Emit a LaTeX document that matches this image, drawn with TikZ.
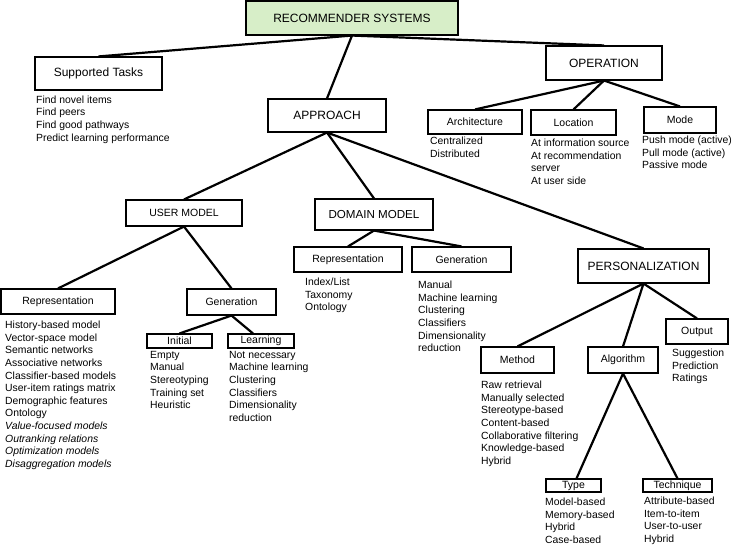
\documentclass[tikz,border=0pt]{standalone}
\usepackage{fontspec}
\setmainfont{Liberation Sans}
\definecolor{recgreen}{RGB}{215,238,200}
\begin{document}
\begin{tikzpicture}[x=1pt,y=-1pt,
  box/.style={draw, line width=1.1pt, inner sep=0pt, font=\fontsize{10.5}{12}\selectfont},
  bigbox/.style={box, font=\fontsize{12}{14}\selectfont},
  conn/.style={line width=2.2pt},
  items/.style={anchor=north west, inner sep=0pt, align=left, font=\fontsize{10.4}{12.6}\selectfont}]
\useasboundingbox (0,0) rectangle (733,545);

% boxes
\node[bigbox, fill=recgreen, minimum width=212pt, minimum height=34pt] (rec) at (352,18) {RECOMMENDER SYSTEMS};
\node[bigbox, minimum width=127pt, minimum height=33pt] (tasks) at (98.5,73.5) {Supported Tasks};
\node[bigbox, minimum width=118pt, minimum height=33pt] (appr) at (327,115.5) {APPROACH};
\node[bigbox, minimum width=116pt, minimum height=34pt] (oper) at (604,63) {OPERATION};
\node[box, minimum width=94pt, minimum height=24pt] (arch) at (475,122) {Architecture};
\node[box, minimum width=85pt, minimum height=25pt] (loc) at (573.5,122.5) {Location};
\node[box, minimum width=72pt, minimum height=26pt] (mode) at (680,120) {Mode};
\node[box, minimum width=116pt, minimum height=26pt] (umod) at (184,213) {USER MODEL};
\node[bigbox, font=\fontsize{11.6}{14}\selectfont, minimum width=118pt, minimum height=31pt] (dmod) at (374,214.5) {DOMAIN MODEL};
\node[bigbox, minimum width=131pt, minimum height=34pt] (pers) at (643.5,266) {PERSONALIZATION};
\node[box, minimum width=114pt, minimum height=25pt] (urep) at (58,301.5) {Representation};
\node[box, minimum width=89pt, minimum height=26pt] (ugen) at (231.5,302) {Generation};
\node[box, minimum width=65pt, minimum height=14pt] (init) at (179.5,341) {Initial};
\node[box, minimum width=66pt, minimum height=14pt] (learn) at (261,341) {Learning};
\node[box, minimum width=108pt, minimum height=25pt] (drep) at (348,259.5) {Representation};
\node[box, minimum width=99pt, minimum height=25pt] (dgen) at (461.5,259.5) {Generation};
\node[box, minimum width=73pt, minimum height=26pt] (meth) at (517.5,360) {Method};
\node[box, minimum width=70pt, minimum height=26pt] (algo) at (623,360) {Algorithm};
\node[box, minimum width=62pt, minimum height=25pt] (outp) at (697,331.5) {Output};
\node[box, minimum width=55pt, minimum height=13pt] (type) at (573.5,485.5) {Type};
\node[box, minimum width=69pt, minimum height=13pt] (tech) at (677.5,485.5) {Technique};

% connectors
\draw[conn] (rec.south) -- (tasks.north);
\draw[conn] (rec.south) -- (appr.north);
\draw[conn] (rec.south) -- (oper.north);
\draw[conn] (oper.south) -- (arch.north);
\draw[conn] (oper.south) -- (loc.north);
\draw[conn] (oper.south) -- (mode.north);
\draw[conn] (appr.south) -- (umod.north);
\draw[conn] (appr.south) -- (dmod.north);
\draw[conn] (appr.south) -- (pers.north);
\draw[conn] (umod.south) -- (urep.north);
\draw[conn] (umod.south) -- (ugen.north);
\draw[conn] (ugen.south) -- (init.north);
\draw[conn] (ugen.south) -- ([xshift=-8pt]learn.north);
\draw[conn] (dmod.south) -- (drep.north);
\draw[conn] (dmod.south) -- (dgen.north);
\draw[conn] (pers.south) -- (meth.north);
\draw[conn] (pers.south) -- (algo.north);
\draw[conn] (pers.south) -- (outp.north);
\draw[conn] (algo.south) -- ([xshift=3pt]type.north);
\draw[conn] (algo.south) -- (tech.north);

% item lists
\node[items] (tasksL) at (36,95.5) {Find novel items\\Find peers\\Find good pathways\\Predict learning performance};
\node[items] (archL) at (430,137) {Centralized\\Distributed};
\node[items] (locL) at (531,139) {At information source\\At recommendation\\server\\At user side};
\node[items] (modeL) at (642,136) {Push mode (active)\\Pull mode (active)\\Passive mode};
\node[items] (urepL) at (5,321) {History-based model\\Vector-space model\\Semantic networks\\Associative networks\\Classifier-based models\\User-item ratings matrix\\Demographic features\\Ontology\\\textit{Value-focused models}\\\textit{Outranking relations}\\\textit{Optimization models}\\\textit{Disaggregation models}};
\node[items] (initL) at (150,351) {Empty\\Manual\\Stereotyping\\Training set\\Heuristic};
\node[items] (learnL) at (229,351) {Not necessary\\Machine learning\\Clustering\\Classifiers\\Dimensionality\\reduction};
\node[items] (drepL) at (305,278) {Index/List\\Taxonomy\\Ontology};
\node[items] (dgenL) at (418,281) {Manual\\Machine learning\\Clustering\\Classifiers\\Dimensionality\\reduction};
\node[items] (outpL) at (672,349) {Suggestion\\Prediction\\Ratings};
\node[items] (methL) at (481,381) {Raw retrieval\\Manually selected\\Stereotype-based\\Content-based\\Collaborative filtering\\Knowledge-based\\Hybrid};
\node[items] (typeL) at (545,498) {Model-based\\Memory-based\\Hybrid\\Case-based};
\node[items] (techL) at (644,497) {Attribute-based\\Item-to-item\\User-to-user\\Hybrid};
\end{tikzpicture}
\end{document}
